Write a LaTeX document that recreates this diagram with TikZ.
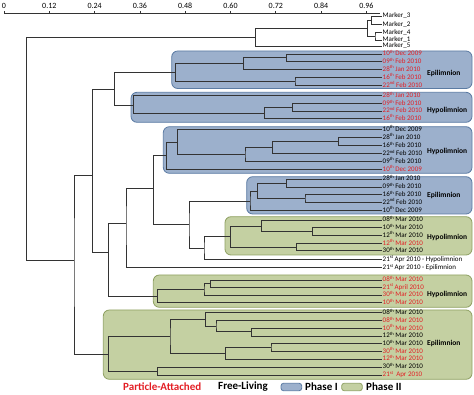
\documentclass[tikz,border=0pt]{standalone}
\usepackage{fontspec}
\setmainfont{Carlito}
\usepackage{tikz}

\definecolor{partred}{HTML}{E31E24}
\definecolor{phaseIfill}{HTML}{9CB0CC}
\definecolor{phaseIdraw}{HTML}{5B7BA3}
\definecolor{phaseIIfill}{HTML}{C4D0A2}
\definecolor{phaseIIdraw}{HTML}{8FA163}
\newcommand{\ordsup}[1]{\raisebox{2.4pt}{\fontsize{4.6}{5}\selectfont #1}}

\tikzset{
  tree/.style={line width=0.8pt, black!80},
  leaf/.style={anchor=west, inner xsep=1pt, inner ysep=0pt, font=\fontsize{7}{8}\selectfont, text height=4.8pt, text depth=1.2pt},
  zone/.style={anchor=west, inner sep=0pt, font=\fontsize{7.5}{9}\selectfont\bfseries},
  phaseI/.style={rounded corners=6pt, fill=phaseIfill, draw=phaseIdraw, line width=0.8pt},
  phaseII/.style={rounded corners=6pt, fill=phaseIIfill, draw=phaseIIdraw, line width=0.8pt},
  legend/.style={anchor=west, inner sep=0pt, font=\fontsize{11}{13}\selectfont\bfseries}
}

\begin{document}
\begin{tikzpicture}[x=1pt,y=-1pt]
\useasboundingbox (0,0) rectangle (474,395);

% similarity axis
\draw[tree] (4,13.3) -- (380,13.3);
\foreach \i/\t in {0/0,1/0.12,2/0.24,3/0.36,4/0.48,5/0.60,6/0.72,7/0.84,8/0.96}{
  \draw[tree] (4+\i*45.3,13.3) -- (4+\i*45.3,11);
  \node[font=\fontsize{8}{9}\selectfont] (t\i) at (4+\i*45.3,5.5) {\t};
}

% phase boxes
\draw[phaseI] (171.7,51) rectangle (472,88.5);
\draw[phaseI] (131,92.3) rectangle (472,122.3);
\draw[phaseI] (163.3,126.7) rectangle (472,173.3);
\draw[phaseI] (246.7,176.7) rectangle (472,214);
\draw[phaseII] (225,216.7) rectangle (472,255);
\draw[phaseII] (153.3,275) rectangle (472,307.3);
\draw[phaseII] (103.3,310) rectangle (472,379.3);

\node[zone] (zA) at (427,73) {Epilimnion};
\node[zone] (zB) at (427,110.5) {Hypolimnion};
\node[zone] (zC) at (427,151) {Hypolimnion};
\node[zone] (zD) at (427,195) {Epilimnion};
\node[zone] (zE) at (427,237.3) {Hypolimnion};
\node[zone] (zF) at (427,294) {Hypolimnion};
\node[zone] (zG) at (427,343.7) {Epilimnion};

% leaves
\foreach \n/\y/\c/\t in {
  m3/16/black/Marker\_3, m2/24.3/black/Marker\_2, m4/32.3/black/Marker\_4,
  m1/40/black/Marker\_1, m5/46.2/black/Marker\_5,
  a1/54/partred/10\ordsup{th} Dec 2009, a2/61.7/partred/09\ordsup{th} Feb 2010,
  a3/69.3/partred/28\ordsup{th} Jan 2010, a4/77.3/partred/16\ordsup{th} Feb 2010,
  a5/85.3/partred/22\ordsup{nd} Feb 2010,
  b1/95.7/partred/28\ordsup{th} Jan 2010, b2/103.7/partred/09\ordsup{th} Feb 2010,
  b3/111/partred/22\ordsup{nd} Feb 2010, b4/118.5/partred/16\ordsup{th} Feb 2010,
  c1/129.3/black/10\ordsup{th} Dec 2009, c2/137.3/black/28\ordsup{th} Jan 2010,
  c3/145.7/black/16\ordsup{th} Feb 2010, c4/153.7/black/22\ordsup{nd} Feb 2010,
  c5/161.3/black/09\ordsup{th} Feb 2010, c6/169.3/partred/10\ordsup{th} Dec 2009,
  d1/179/black/28\ordsup{th} Jan 2010, d2/187/black/09\ordsup{th} Feb 2010,
  d3/194.7/black/16\ordsup{th} Feb 2010, d4/202.3/black/22\ordsup{nd} Feb 2010,
  d5/210.3/black/10\ordsup{th} Dec 2009,
  e1/220/black/08\ordsup{th} Mar 2010, e2/227.7/black/10\ordsup{th} Mar 2010,
  e3/235.3/black/12\ordsup{th} Mar 2010, e4/243.3/partred/12\ordsup{th} Mar 2010,
  e5/250.7/black/30\ordsup{th} Mar 2010,
  h1/259.3/black/21\ordsup{st} Apr 2010 - Hypolimnion,
  h2/267.7/black/21\ordsup{st} Apr 2010 - Epilimnion,
  f1/280/partred/08\ordsup{th} Mar 2010, f2/287.3/partred/21\ordsup{st} April 2010,
  f3/295/partred/30\ordsup{th} Mar 2010, f4/302.7/partred/10\ordsup{th} Mar 2010,
  g1/312.7/black/08\ordsup{th} Mar 2010, g2/320.7/partred/08\ordsup{th} Mar 2010,
  g3/328.3/partred/10\ordsup{th} Mar 2010, g4/336/black/12\ordsup{th} Mar 2010,
  g5/343.7/black/10\ordsup{th} Mar 2010, g6/351.3/partred/30\ordsup{th} Mar 2010,
  g7/359/partred/12\ordsup{th} Mar 2010, g8/367/black/30\ordsup{th} Mar 2010,
  g9/375/partred/21\ordsup{st}\ \ Apr 2010}
  \node[leaf, text=\c] (\n) at (381.5,\y) {\t};

% internal nodes of the dendrogram
\foreach \n/\x/\y in {
  nm32/371.7/20.2, nm41/375/36.2, nm4/367.3/28.2, nM/255.7/37.5,
  na12/286.7/57.8, na123/243.3/63.5, na45/295/81.3, nA/175.7/72.4,
  nb23/292.7/107.3, nb234/264.3/113, nB/133.3/105, nD/114.3/89.5,
  nc23/338.3/141.5, nc234/272.3/147.6, nc2345/245/154.5, nc12345/177.7/142, nC/166.7/155.6,
  nd12/286.7/183, nd34/305/198.5, nd1234/257.7/191.2, nDD/250/201,
  ne23/312.7/231.5, ne123/261.7/226, ne45/296.7/247, nE/230.7/236.6,
  nEh/204/248, nF/189/224.5, nG/153.7/188.8, nGh/126/223.3,
  nf12/210.7/283.6, nf123/204/289.3, nF6/157.7/296,
  nH/108.3/252.7, nCC/92.3/175.7,
  ng34/251.7/331.5, ng234/216/326, ng1234/205.7/319.5,
  ng56/271/347.5, ng567/225.7/353.5, ng17/170/336.7, ng89/157.7/371, nGG/108.3/354.3,
  nBB/74/260, root/26.7/149}
  \coordinate (\n) at (\x,\y);

% branches
\foreach \p/\a/\b in {
  nm32/m3/m2, nm41/m4/m1, nm4/nm32/nm41, nM/nm4/m5,
  na12/a1/a2, na123/na12/a3, na45/a4/a5, nA/na123/na45,
  nb23/b2/b3, nb234/nb23/b4, nB/b1/nb234, nD/nA/nB,
  nc23/c2/c3, nc234/nc23/c4, nc2345/nc234/c5, nc12345/c1/nc2345, nC/nc12345/c6,
  nd12/d1/d2, nd34/d3/d4, nd1234/nd12/nd34, nDD/nd1234/d5,
  ne23/e2/e3, ne123/e1/ne23, ne45/e4/e5, nE/ne123/ne45,
  nEh/nE/h1, nF/nDD/nEh, nG/nC/nF, nGh/nG/h2,
  nf12/f1/f2, nf123/nf12/f3, nF6/nf123/f4,
  nH/nGh/nF6, nCC/nD/nH,
  ng34/g3/g4, ng234/g2/ng34, ng1234/g1/ng234,
  ng56/g5/g6, ng567/ng56/g7, ng17/ng1234/ng567, ng89/g8/g9, nGG/ng17/ng89,
  nBB/nCC/nGG, root/nM/nBB}
  \draw[tree] (\a) -| (\p) |- (\b);

% legend
\node[legend, text=partred] (lpa) at (123,386.7) {Particle-Attached};
\node[legend] (lfl) at (218,386.7) {Free-Living};
\draw[phaseI, rounded corners=2.5pt] (281,383.3) rectangle (301.7,390.7);
\node[legend] (lp1) at (305,386.7) {Phase I};
\draw[phaseII, rounded corners=2.5pt] (341.7,383.3) rectangle (362.3,390.7);
\node[legend] (lp2) at (366,386.7) {Phase II};
\end{tikzpicture}
\end{document}
